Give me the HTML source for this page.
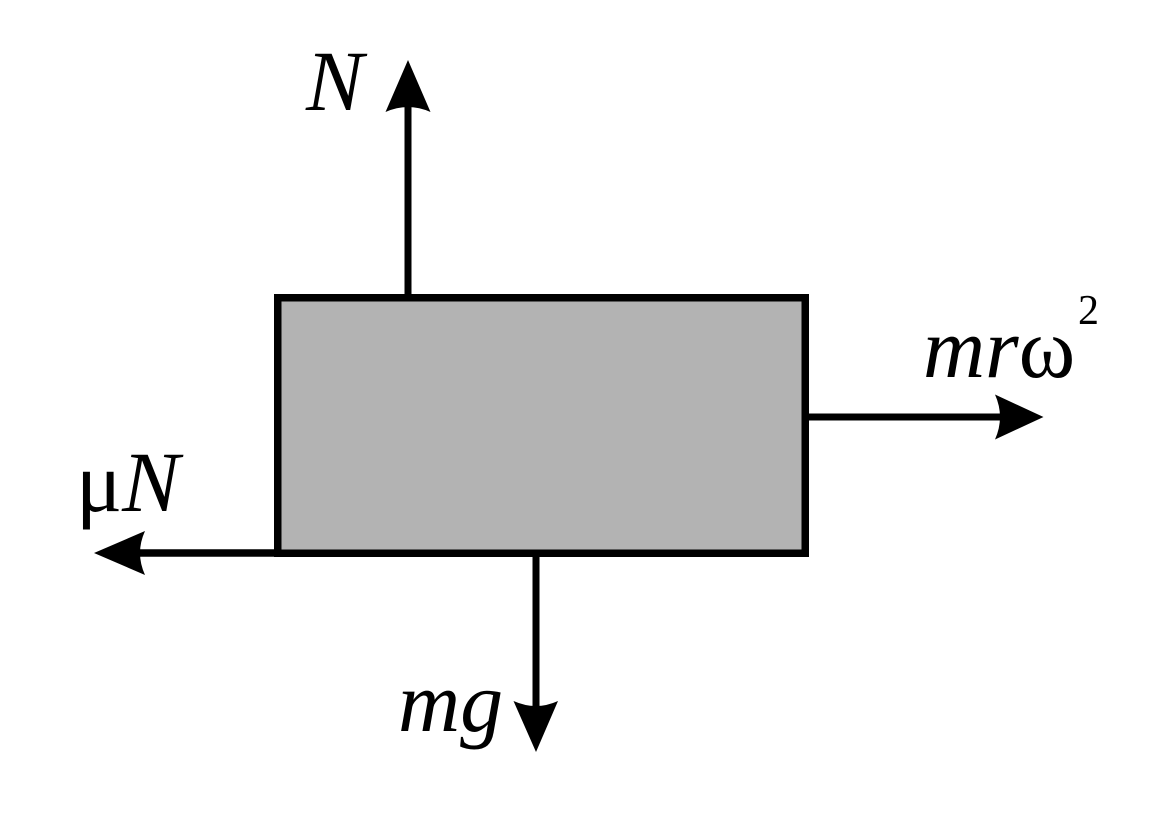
<!DOCTYPE html>
<html>
<head>
<meta charset="utf-8">
<style>
html,body{margin:0;padding:0;background:#fff;}
#wrap{position:relative;width:1152px;height:828px;overflow:hidden;}
svg{display:block;position:absolute;left:0;top:0;}
.t{position:absolute;font-family:"Liberation Serif","Times New Roman",Times,"DejaVu Serif",serif;font-size:86px;line-height:86px;white-space:nowrap;color:#000;}
.i{font-style:italic;}
.n{font-style:normal;}
</style>
</head>
<body>
<div id="wrap">
<svg width="1152" height="828" viewBox="0 0 1152 828" xmlns="http://www.w3.org/2000/svg">
  <rect x="0" y="0" width="1152" height="828" fill="#fff"/>
  <!-- block -->
  <rect x="277.75" y="297.75" width="527.5" height="255.5" fill="#b3b3b3" stroke="#000" stroke-width="7.5"/>

  <!-- N arrow (up) -->
  <line x1="408" y1="294" x2="408" y2="104" stroke="#000" stroke-width="7"/>
  <path d="M408,60 L430.5,112 Q408,102 385.5,112 Z" fill="#000"/>

  <!-- mrw^2 arrow (right) -->
  <line x1="805" y1="417" x2="1002" y2="417" stroke="#000" stroke-width="7"/>
  <path d="M1043.5,417 L995,439.5 Q1005,417 995,394.5 Z" fill="#000"/>

  <!-- muN arrow (left) -->
  <line x1="278" y1="553" x2="138" y2="553" stroke="#000" stroke-width="7.5"/>
  <path d="M94,553 L145,531 Q135,553 145,575 Z" fill="#000"/>

  <!-- mg arrow (down) -->
  <line x1="536" y1="553" x2="536" y2="708" stroke="#000" stroke-width="7"/>
  <path d="M536,752 L513.5,701 Q536,711 558,701 Z" fill="#000"/>
</svg>
<div class="t i" style="left:306px;top:38px;">N</div>
<div class="t" style="left:923px;top:305px;"><span class="i">mr</span><span class="n">ω</span></div>
<div class="t" style="left:1078px;top:290px;font-size:42px;line-height:42px;">2</div>
<div class="t" style="left:76px;top:439px;"><span class="n">μ</span><span class="i">N</span></div>
<div class="t i" style="left:398px;top:659px;">mg</div>
</div>
</body>
</html>
